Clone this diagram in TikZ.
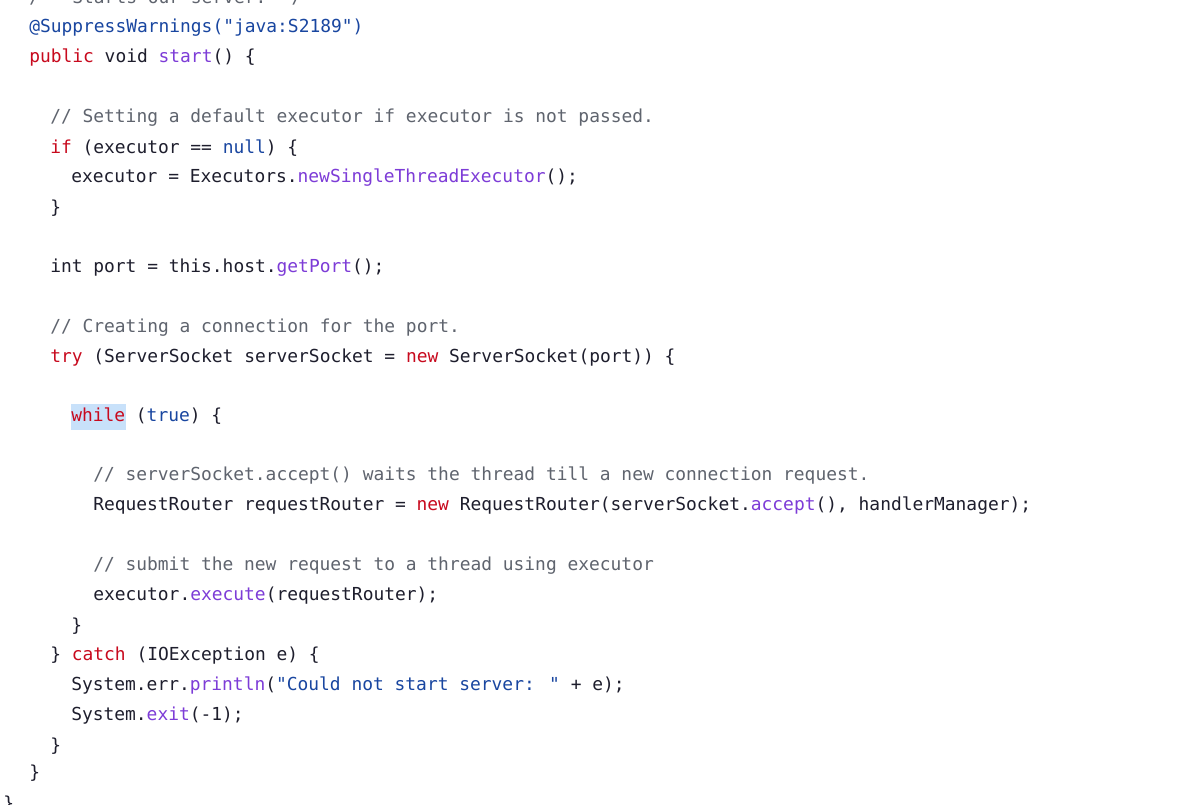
\documentclass[tikz,border=0pt]{standalone}
\usepackage{fontspec}
\newfontfamily\code{DejaVu Sans Mono}
\definecolor{kw}{RGB}{200,10,30}
\definecolor{fn}{RGB}{125,60,215}
\definecolor{lit}{RGB}{25,70,160}
\definecolor{cm}{RGB}{95,100,110}
\definecolor{tx}{RGB}{30,30,45}
\definecolor{hl}{RGB}{200,225,250}
\newcommand{\K}[1]{\textcolor{kw}{#1}}
\newcommand{\F}[1]{\textcolor{fn}{#1}}
\newcommand{\Lt}[1]{\textcolor{lit}{#1}}
\newcommand{\C}[1]{\textcolor{cm}{#1}}
\tikzset{ln/.style={anchor=west,inner sep=0pt,text=tx,font=\code\fontsize{13.43}{16}\selectfont}}
\begin{document}
\begin{tikzpicture}[x=0.75pt,y=-0.75pt]
\useasboundingbox (0,0) rectangle (1200,804);
\fill[white] (0,0) rectangle (1200,804);
\begin{scope}[yshift=-1.5pt]
\clip (0,-2) rectangle (1200,802);
\node[ln] (l0) at (29,-4) {\C{/** Starts our server. */}};
\node[ln] (l1) at (29,26) {\Lt{@SuppressWarnings("java:S2189")}};
\node[ln] (l2) at (29,56) {\K{public} void \F{start}() \{};
\node[ln] (l3) at (50,116) {\C{// Setting a default executor if executor is not passed.}};
\node[ln] (l4) at (50,146) {\K{if} (executor == \Lt{null}) \{};
\node[ln] (l5) at (71,176) {executor = Executors.\F{newSingleThreadExecutor}();};
\node[ln] (l6) at (50,206) {\}};
\node[ln] (l7) at (50,266) {int port = this.host.\F{getPort}();};
\node[ln] (l8) at (50,326) {\C{// Creating a connection for the port.}};
\node[ln] (l9) at (50,356) {\K{try} (ServerSocket serverSocket = \K{new} ServerSocket(port)) \{};
\fill[hl] (71,402) rectangle (125.5,428);
\node[ln] (l10) at (71,414) {\K{while} (\Lt{true}) \{};
\node[ln] (l11) at (93,474) {\C{// serverSocket.accept() waits the thread till a new connection request.}};
\node[ln] (l12) at (93,504) {RequestRouter requestRouter = \K{new} RequestRouter(serverSocket.\F{accept}(), handlerManager);};
\node[ln] (l13) at (93,564) {\C{// submit the new request to a thread using executor}};
\node[ln] (l14) at (93,594) {executor.\F{execute}(requestRouter);};
\node[ln] (l15) at (71,624) {\}};
\node[ln] (l16) at (50,654) {\} \K{catch} (IOException e) \{};
\node[ln] (l17) at (71,684) {System.err.\F{println}(\Lt{"Could not start server: "} + e);};
\node[ln] (l18) at (71,714) {System.\F{exit}(-1);};
\node[ln] (l19) at (50,744) {\}};
\node[ln] (l20) at (29,771) {\}};
\node[ln] (l21) at (3,802) {\}};
\end{scope}
\end{tikzpicture}
\end{document}
